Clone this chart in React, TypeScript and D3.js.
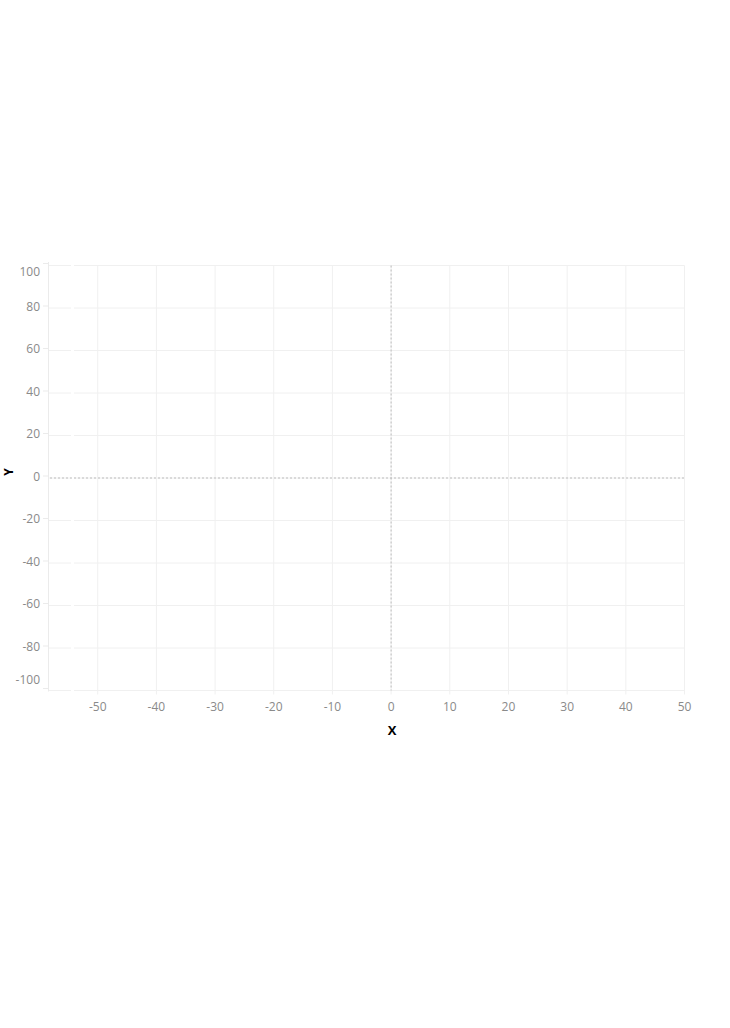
import * as d3 from 'd3';

const xTicks = [-50, -40, -30, -20, -10, 0, 10, 20, 30, 40, 50];
const yTicks = [-100, -80, -60, -40, -20, 0, 20, 40, 60, 80, 100];
const xDomain: [number, number] = [-58.3, 50];
const yDomain: [number, number] = [-100, 100];

const W = 730;
const H = 1028;
const left = 49;
const right = 684.5;
const top = 265.5;
const bottom = 690.5;

const font = '"Open Sans", "DejaVu Sans", sans-serif';
const gridColour = '#f0f0f0';
const labelColour = '#8a8a8a';

export default function App() {
  const x = d3.scaleLinear().domain(xDomain).range([left, right]);
  const y = d3.scaleLinear().domain(yDomain).range([bottom, top]);

  // labels at the ends are pulled inside the plot like the reference
  const yLabelPos = (v: number) => Math.max(top + 6, Math.min(bottom - 11.5, y(v) - 2));

  return (
    <svg
      width={W}
      height={H}
      style={{ position: 'absolute', left: 0, top: 0, background: '#fff' }}
      fontFamily={font}
    >
      {/* horizontal grid */}
      {yTicks.map(v => (
        <line
          key={'gy' + v}
          x1={left - 1}
          x2={right}
          y1={y(v)}
          y2={y(v)}
          stroke={gridColour}
          strokeWidth={1}
          strokeDasharray="23 3 1000"
        />
      ))}
      {/* vertical grid + ticks */}
      {xTicks.map(v => (
        <line
          key={'gx' + v}
          x1={x(v)}
          x2={x(v)}
          y1={top}
          y2={bottom + 4}
          stroke={gridColour}
          strokeWidth={1}
        />
      ))}
      {/* left axis */}
      <line x1={left - 0.5} x2={left - 0.5} y1={top - 3.5} y2={bottom + 1} stroke="#ebebeb" />
      {yTicks.map(v => (
        <line
          key={'ty' + v}
          x1={left - 6}
          x2={left - 0.5}
          y1={y(v) - 2}
          y2={y(v) - 2}
          stroke="#ebebeb"
        />
      ))}
      {/* zero lines */}
      <line
        x1={left + 1}
        x2={right}
        y1={y(0)}
        y2={y(0)}
        stroke="#bdbdbd"
        strokeDasharray="2 2"
      />
      <line
        x1={x(0)}
        x2={x(0)}
        y1={top}
        y2={bottom}
        stroke="#bdbdbd"
        strokeDasharray="2 2"
      />
      {/* y labels */}
      {yTicks.map(v => (
        <text
          key={'ly' + v}
          x={40}
          y={yLabelPos(v)}
          textAnchor="end"
          dominantBaseline="central"
          fontSize={12}
          fill={labelColour}
        >
          {v}
        </text>
      ))}
      {/* x labels */}
      {xTicks.map(v => (
        <text
          key={'lx' + v}
          x={x(v)}
          y={706}
          textAnchor="middle"
          dominantBaseline="central"
          fontSize={12}
          fill={labelColour}
        >
          {v}
        </text>
      ))}
      <text
        x={392}
        y={730}
        textAnchor="middle"
        dominantBaseline="central"
        fontSize={13}
        fontWeight="bold"
        fill="#000"
      >
        X
      </text>
      <text
        transform="translate(8,472) rotate(-90)"
        textAnchor="middle"
        dominantBaseline="central"
        fontSize={12}
        fontWeight="bold"
        fill="#000"
      >
        Y
      </text>
    </svg>
  );
}
